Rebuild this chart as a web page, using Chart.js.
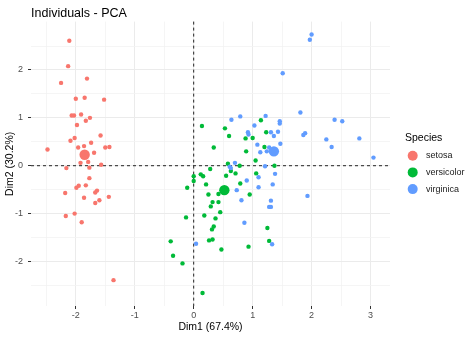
<!DOCTYPE html>
<html>
<head>
<meta charset="utf-8">
<script src="https://cdn.jsdelivr.net/npm/chart.js@4.4.1/dist/chart.umd.min.js"></script>
<style>
  html, body { margin: 0; padding: 0; background: #ffffff; }
  #wrap { width: 474px; height: 338px; position: relative; }
</style>
</head>
<body>
<div id="wrap"><canvas id="c" width="474" height="338"></canvas></div>
<script>
// ---- Data ----
const speciesNames = ["setosa", "versicolor", "virginica"];
const speciesColors = ["#F8766D", "#00BA38", "#619CFF"];

const setosaDim1 = [-2.11,-2.13,-2.25,-1.81,-2.00,-1.85,-1.52,-2.07,-2.03,-1.91,-1.76,-1.83,-1.98,-1.58,-2.02,-2.09,-1.74,-1.96,-1.86,-2.48,-1.50,-1.43,-1.69,-1.92,-1.79,-1.57,-2.16,-1.77,-1.77,-1.95,-1.99,-1.83,-2.18,-1.64,-1.67,-1.86,-1.44,-1.60,-1.67,-2.17,-2.02,-1.90,-1.36];
const setosaDim2 = [2.61,2.08,1.73,1.82,1.40,1.42,1.38,1.05,1.05,1.07,1.00,0.94,0.85,0.63,0.58,0.52,0.48,0.38,0.41,0.34,0.38,0.39,0.27,0.06,0.08,0.02,-0.05,-0.04,-0.26,-0.42,-0.46,-0.41,-0.57,-0.52,-0.56,-0.67,-0.65,-0.72,-0.78,-1.05,-1.00,-1.18,-2.39];

const versicolorDim1 = [0.14,0.53,1.14,0.60,0.88,1.00,1.23,0.34,1.20,0.89,1.05,0.58,0.78,1.37,0.28,0.00,0.00,0.12,0.16,-0.11,0.55,0.63,0.71,1.06,0.21,0.79,0.25,0.42,0.95,0.32,0.42,0.29,0.45,0.18,-0.13,0.37,0.34,0.31,1.25,-0.39,0.26,0.32,1.28,0.47,0.93,-0.35,-0.19,0.15];
const versicolorDim2 = [0.83,0.78,0.95,0.62,0.57,0.58,0.70,0.38,0.39,0.30,0.11,0.04,0.00,0.00,-0.07,-0.22,-0.32,-0.18,-0.22,-0.46,-0.21,-0.11,-0.16,-0.16,-0.39,-0.37,-0.60,-0.59,-0.60,-0.76,-0.76,-0.85,-0.97,-1.04,-1.08,-1.10,-1.27,-1.33,-1.30,-1.58,-1.56,-1.54,-1.57,-1.75,-1.69,-1.88,-2.04,-2.66];

const virginicaDim1 = [2.00,1.97,1.51,1.81,1.22,0.79,0.64,1.46,1.46,2.39,2.52,1.03,0.92,0.93,1.43,1.31,1.36,1.89,1.86,2.25,2.81,1.08,1.47,2.34,1.13,1.24,3.05,0.70,0.61,0.63,1.21,1.38,0.90,1.10,1.34,1.10,0.73,1.93,0.81,1.31,1.28,1.31,0.86,0.04,1.33,1.28];
const virginicaDim2 = [2.74,2.63,1.93,1.11,1.04,1.03,0.96,0.93,0.88,0.96,0.93,0.84,0.70,0.65,0.71,0.70,0.62,0.68,0.64,0.55,0.57,0.44,0.46,0.39,0.28,0.30,0.17,0.06,-0.02,-0.05,-0.01,-0.17,-0.31,-0.24,-0.39,-0.45,-0.51,-0.63,-0.72,-0.73,-0.86,-0.86,-1.19,-1.63,-1.64,0.38];

// group mean points (large markers)
const meanDim1 = [-1.85, 0.52, 1.36];
const meanDim2 = [0.23, -0.51, 0.30];

const xMajorTicks = [-2, -1, 0, 1, 2, 3];
const xMinorTicks = [-2.5, -1.5, -0.5, 0.5, 1.5, 2.5];
const yMajorTicks = [-2, -1, 0, 1, 2];
const yMinorTicks = [-2.5, -1.5, -0.5, 0.5, 1.5, 2.5];

const chartTitle = "Individuals - PCA";
const xTitle = "Dim1 (67.4%)";
const yTitle = "Dim2 (30.2%)";
const legendTitle = "Species";

// ---- Build ----
function pts(xs, ys) { return xs.map((x, i) => ({ x: x, y: ys[i] })); }
const groupX = [setosaDim1, versicolorDim1, virginicaDim1];
const groupY = [setosaDim2, versicolorDim2, virginicaDim2];

const datasets = [];
speciesNames.forEach((name, g) => {
  datasets.push({
    label: name,
    data: pts(groupX[g], groupY[g]),
    backgroundColor: speciesColors[g],
    borderWidth: 0,
    pointRadius: 2.2,
    pointHoverRadius: 2.2,
    order: 10 - g
  });
});
speciesNames.forEach((name, g) => {
  datasets.push({
    label: name + " mean",
    data: [{ x: meanDim1[g], y: meanDim2[g] }],
    backgroundColor: speciesColors[g],
    borderWidth: 0,
    pointRadius: 5.2,
    pointHoverRadius: 5.2,
    order: 1
  });
});

const font = "'Liberation Sans', Arial, sans-serif";

function setTicks(majors, minors) {
  return function (scale) {
    const all = majors.concat(minors).sort((a, b) => a - b);
    scale.ticks = all.map(v => ({ value: v }));
  };
}
function isMajor(v, majors) { return majors.some(m => Math.abs(m - v) < 1e-9); }

const zeroLines = {
  id: 'zeroLines',
  beforeDatasetsDraw(chart) {
    const { ctx, chartArea, scales } = chart;
    const x0 = scales.x.getPixelForValue(0);
    const y0 = scales.y.getPixelForValue(0);
    ctx.save();
    ctx.strokeStyle = '#222222';
    ctx.lineWidth = 1;
    ctx.setLineDash([3, 3]);
    ctx.beginPath();
    ctx.moveTo(x0, chartArea.top);
    ctx.lineTo(x0, chartArea.bottom);
    ctx.moveTo(chartArea.left, y0);
    ctx.lineTo(chartArea.right, y0);
    ctx.stroke();
    ctx.restore();
  }
};

const sideLegend = {
  id: 'sideLegend',
  afterDraw(chart) {
    const ctx = chart.ctx;
    ctx.save();
    ctx.fillStyle = '#000000';
    ctx.font = "10.5px " + font;
    ctx.textAlign = 'left';
    ctx.textBaseline = 'middle';
    ctx.fillText(legendTitle, 405, 138.5);
    speciesNames.forEach((name, i) => {
      const cy = 155.7 + i * 16.7;
      ctx.beginPath();
      ctx.fillStyle = speciesColors[i];
      ctx.arc(412.7, cy, 5, 0, Math.PI * 2);
      ctx.fill();
      ctx.fillStyle = '#1A1A1A';
      ctx.font = "9px " + font;
      ctx.fillText(name, 426, cy);
    });
    ctx.restore();
  }
};

new Chart(document.getElementById('c'), {
  type: 'scatter',
  data: { datasets: datasets },
  options: {
    responsive: false,
    animation: false,
    devicePixelRatio: 1,
    layout: { padding: { left: 0, right: 84, top: 0, bottom: 0 } },
    plugins: {
      legend: { display: false },
      tooltip: { enabled: false },
      title: {
        display: true,
        text: chartTitle,
        align: 'start',
        fullSize: false,
        color: '#000000',
        font: { family: font, size: 12.5, weight: 'normal', lineHeight: 1.2 },
        padding: { top: 6, bottom: 0.6 }
      }
    },
    scales: {
      x: {
        type: 'linear',
        min: -2.76,
        max: 3.33,
        afterBuildTicks: setTicks(xMajorTicks, xMinorTicks),
        afterFit(scale) { scale.height = 32; },
        border: { display: false },
        grid: {
          color: ctx => isMajor(ctx.tick.value, xMajorTicks) ? '#EBEBEB' : '#F3F3F3',
          lineWidth: ctx => isMajor(ctx.tick.value, xMajorTicks) ? 1 : 0.8,
          tickColor: ctx => isMajor(ctx.tick.value, xMajorTicks) ? '#333333' : 'rgba(0,0,0,0)',
          tickLength: 3
        },
        ticks: {
          autoSkip: false,
          maxRotation: 0,
          padding: 1,
          color: '#4D4D4D',
          font: { family: font, size: 9 },
          callback: v => isMajor(v, xMajorTicks) ? String(v) : ''
        },
        title: {
          display: true,
          text: xTitle,
          color: '#000000',
          font: { family: font, size: 10.5 },
          padding: { top: 0, bottom: 4.5 }
        }
      },
      y: {
        type: 'linear',
        min: -2.93,
        max: 3.01,
        afterBuildTicks: setTicks(yMajorTicks, yMinorTicks),
        afterFit(scale) { scale.width = 31; },
        border: { display: false },
        grid: {
          color: ctx => isMajor(ctx.tick.value, yMajorTicks) ? '#EBEBEB' : '#F3F3F3',
          lineWidth: ctx => isMajor(ctx.tick.value, yMajorTicks) ? 1 : 0.8,
          tickColor: ctx => isMajor(ctx.tick.value, yMajorTicks) ? '#333333' : 'rgba(0,0,0,0)',
          tickLength: 3
        },
        ticks: {
          autoSkip: false,
          padding: 5,
          color: '#4D4D4D',
          font: { family: font, size: 9 },
          callback: v => isMajor(v, yMajorTicks) ? String(v) : ''
        },
        title: {
          display: true,
          text: yTitle,
          color: '#000000',
          font: { family: font, size: 10.5 },
          padding: { top: 4, bottom: 0 }
        }
      }
    }
  },
  plugins: [zeroLines, sideLegend]
});
</script>
</body>
</html>
